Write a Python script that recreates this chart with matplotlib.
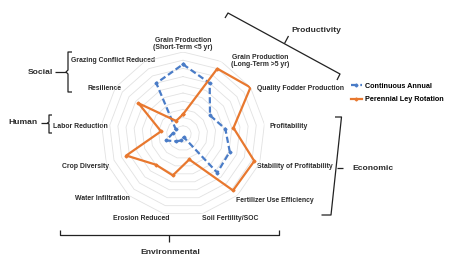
import numpy as np
import matplotlib.pyplot as plt

# Radar axes, clockwise from the top
categories = ["Grain Production\n(Short-Term <5 yr)", "Grain Production\n(Long-Term >5 yr)",
              "Quality Fodder Production", "Profitability", "Stability of Profitability",
              "Fertilizer Use Efficiency", "Soil Fertility/SOC", "Erosion Reduced",
              "Water Infiltration", "Crop Diversity", "Labor Reduction", "Resilience",
              "Grazing Conflict Reduced"]
continuous_annual = [8.5, 7.0, 4.0, 5.2, 6.1, 6.3, 0.4, 0.8, 1.2, 2.2, 1.2, 1.1, 7.0]
perennial_ley = [2.4, 9.0, 10.0, 6.2, 9.3, 9.2, 3.2, 5.2, 5.0, 7.4, 2.7, 6.6, 1.8]
groups = ["Productivity", "Economic", "Environmental", "Human", "Social"]

BLUE = "#4a7cc7"
ORANGE = "#e8782f"
TXT = "#2b2b2b"
W, H = 450, 272
CX, CY, R = 183, 134, 82   # radar centre and radius in pixels

fig = plt.figure(figsize=(W / 100, H / 100), dpi=100)
plt.rcParams['font.family'] = ['Liberation Sans', 'DejaVu Sans']

# overlay in pixel coordinates for labels and brackets
ov = fig.add_axes([0, 0, 1, 1])
ov.set_xlim(0, W)
ov.set_ylim(H, 0)
ov.axis('off')

ax = fig.add_axes([(CX - R) / W, (H - CY - R) / H, 2 * R / W, 2 * R / H], projection='polar')
ax.set_theta_zero_location('N')
ax.set_theta_direction(-1)
n = len(categories)
ang = np.linspace(0, 2 * np.pi, n, endpoint=False)
ang_c = np.append(ang, ang[0])

for lev in range(1, 11):
    ax.plot(ang_c, [lev] * (n + 1), color="#e2e2e2", lw=0.6, zorder=1)

ax.plot(ang_c, continuous_annual + continuous_annual[:1], color=BLUE, lw=1.6, ls=(0, (2.8, 1.4)),
        marker='D', ms=1.5, label="Continuous Annual", zorder=3)
ax.plot(ang_c, perennial_ley + perennial_ley[:1], color=ORANGE, lw=1.6,
        marker='D', ms=1.5, label="Perennial Ley Rotation", zorder=3)
ax.set_ylim(0, 10)
ax.set_xticks([])
ax.set_yticks([])
ax.grid(False)
ax.spines['polar'].set_visible(False)
ax.patch.set_alpha(0)

# axis labels (pixel positions)
lab_pos = [(183, 44, 'center'), (260, 61, 'center'), (257, 88, 'left'), (270, 127, 'left'),
           (257, 167, 'left'), (236, 200, 'left'), (202, 219, 'left'), (113, 219, 'left'),
           (75, 199, 'left'), (62, 166, 'left'), (53, 126, 'left'), (88, 88, 'left'),
           (71, 61, 'left')]
for lbl, (x, y, ha) in zip(categories, lab_pos):
    ov.text(x, y, lbl, ha=ha, va='center', fontsize=4.95, fontweight='bold', color=TXT,
            linespacing=1.15)

grp_pos = [(291, 30), (352, 169), (140, 252), (8, 123), (28, 72)]
for g, (x, y) in zip(groups, grp_pos):
    ov.text(x, y, g, ha='left', va='center', fontsize=6.1, fontweight='bold', color=TXT)

kw = dict(color="#222222", lw=0.9, solid_capstyle='butt')
# Social brace
ov.plot([72, 68, 68, 66, 68, 68, 72], [52, 52, 70, 72, 74, 92, 92], **kw)
ov.plot([55, 66], [72, 72], **kw)
# Human brace
ov.plot([52, 49, 49, 47.5, 49, 49, 52], [115, 115, 122, 123, 124, 133, 133], **kw)
ov.plot([41, 47.5], [123, 123], **kw)
# Productivity bracket (tilted)
ov.plot([225, 228, 340, 337], [18, 13, 74, 80], **kw)
ov.plot([284.5, 288.5], [43.5, 36], **kw)
# Economic bracket
ov.plot([335, 341.5, 331, 321.5], [117, 117, 215, 215], **kw)
ov.plot([336.5, 343], [168, 168], **kw)
# Environmental bracket
ov.plot([59.5, 59.5, 278.5, 278.5], [230, 235, 235, 230], **kw)
ov.plot([169, 169], [235, 242], **kw)

ax.legend(loc='center left', bbox_to_anchor=(344 / W, 1 - 93 / H), bbox_transform=fig.transFigure,
          frameon=False, handlelength=1.6, handletextpad=0.35, labelspacing=0.9,
          prop={'weight': 'bold', 'size': 5.2})

fig.savefig("out.png", dpi=100)
